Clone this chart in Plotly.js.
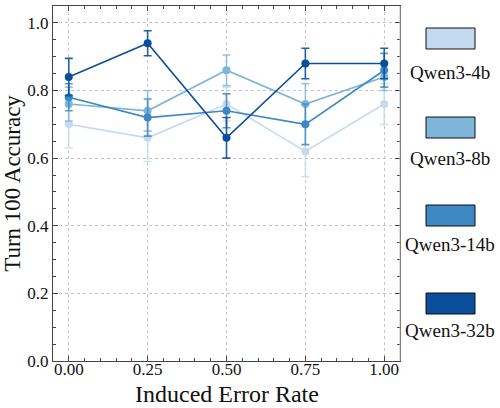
<!DOCTYPE html>
<html>
<head>
<meta charset="utf-8">
<script src="https://cdn.plot.ly/plotly-3.0.1.min.js"></script>
<style>
  html, body { margin: 0; padding: 0; background: #fff; }
  #chart { width: 500px; height: 408px; }
</style>
</head>
<body>
<div id="chart"></div>
<script>
const errorRates = [0.0, 0.25, 0.5, 0.75, 1.0];

const models = ["Qwen3-4b", "Qwen3-8b", "Qwen3-14b", "Qwen3-32b"];

const acc4b = [0.70, 0.66, 0.76, 0.62, 0.76];
const acc8b = [0.76, 0.74, 0.86, 0.76, 0.84];
const acc14b = [0.78, 0.72, 0.74, 0.70, 0.86];
const acc32b = [0.84, 0.94, 0.66, 0.88, 0.88];

const err4b = [0.07, 0.07, 0.05, 0.075, 0.06];
const err8b = [0.05, 0.06, 0.045, 0.06, 0.04];
const err14b = [0.04, 0.055, 0.05, 0.06, 0.05];
const err32b = [0.055, 0.037, 0.06, 0.045, 0.045];

const colors = ["#c3d9ee", "#7db5db", "#3d87c3", "#0b4f9b"];
const errColors = [
  "rgba(195,217,238,0.8)",
  "rgba(125,181,219,0.8)",
  "rgba(61,135,195,0.85)",
  "rgba(11,79,155,0.9)"
];

const accs = [acc4b, acc8b, acc14b, acc32b];
const errs = [err4b, err8b, err14b, err32b];

const FONT = "Liberation Serif, Times New Roman, serif";

const data = models.map((name, i) => ({
  x: errorRates,
  y: accs[i],
  name: name,
  type: "scatter",
  mode: "lines+markers",
  line: { color: colors[i], width: 1.6 },
  marker: { color: colors[i], size: 8 },
  error_y: {
    type: "data",
    array: errs[i],
    visible: true,
    color: errColors[i],
    thickness: 1.6,
    width: 4
  },
  showlegend: false
}));

// plot area in pixels: left 53, right 400, top 6, bottom 361
const L = 53, R = 400, T = 6, B = 361;
const px = x => (x - L) / (R - L);
const py = y => (B - y) / (B - T);

const shapes = [
  {
    type: "line", xref: "paper", yref: "paper",
    x0: 1, x1: 1, y0: 0, y1: 1,
    line: { color: "#bbbbbb", width: 1 }
  }
];

// x axis title sits a bit closer to the tick labels than plotly allows
const annotations = [
  {
    xref: "paper", yref: "paper",
    x: 0.5, y: py(379),
    xanchor: "center", yanchor: "top",
    text: "Induced Error Rate", showarrow: false,
    font: { family: FONT, size: 24, color: "#111" }
  }
];

const boxTops = [28, 117, 205, 293];
const labelY = [73, 158, 244, 330];
models.forEach((name, i) => {
  shapes.push({
    type: "rect", xref: "paper", yref: "paper",
    x0: px(426), x1: px(475),
    y0: py(boxTops[i] + 21), y1: py(boxTops[i]),
    fillcolor: colors[i],
    line: { color: "#111", width: 1 }
  });
  annotations.push({
    xref: "paper", yref: "paper",
    x: px(450), y: py(labelY[i]),
    xanchor: "center", yanchor: "middle",
    text: name, showarrow: false,
    font: { family: FONT, size: 19, color: "#111" }
  });
});

const layout = {
  width: 500,
  height: 408,
  margin: { l: L, r: 500 - R, t: T, b: 408 - B },
  paper_bgcolor: "#fff",
  plot_bgcolor: "#fff",
  font: { family: FONT, size: 17, color: "#111" },
  xaxis: {
    range: [-0.05, 1.05],
    tickvals: errorRates,
    tickformat: ".2f",
    ticks: "inside",
    ticklen: 5,
    tickcolor: "#444",
    ticklabelstandoff: -7,
    showline: true,
    linecolor: "#444",
    mirror: "allticks",
    showgrid: true,
    gridcolor: "#c4c4c4",
    griddash: "dot",
    gridwidth: 1,
    zeroline: false,
    minor: { dtick: 0.05, ticks: "inside", ticklen: 3, tickcolor: "#444", showgrid: false }
  },
  yaxis: {
    range: [0, 1.05],
    dtick: 0.2,
    tickformat: ".1f",
    ticks: "inside",
    ticklen: 5,
    tickcolor: "#444",
    showline: true,
    linecolor: "#444",
    mirror: "allticks",
    showgrid: true,
    gridcolor: "#c4c4c4",
    griddash: "dot",
    gridwidth: 1,
    zeroline: false,
    minor: { dtick: 0.05, ticks: "inside", ticklen: 3, tickcolor: "#444", showgrid: false },
    title: { text: "Turn 100 Accuracy", font: { family: FONT, size: 23 }, standoff: 3 }
  },
  shapes: shapes,
  annotations: annotations
};

Plotly.newPlot("chart", data, layout, { displayModeBar: false, staticPlot: true });
</script>
</body>
</html>
